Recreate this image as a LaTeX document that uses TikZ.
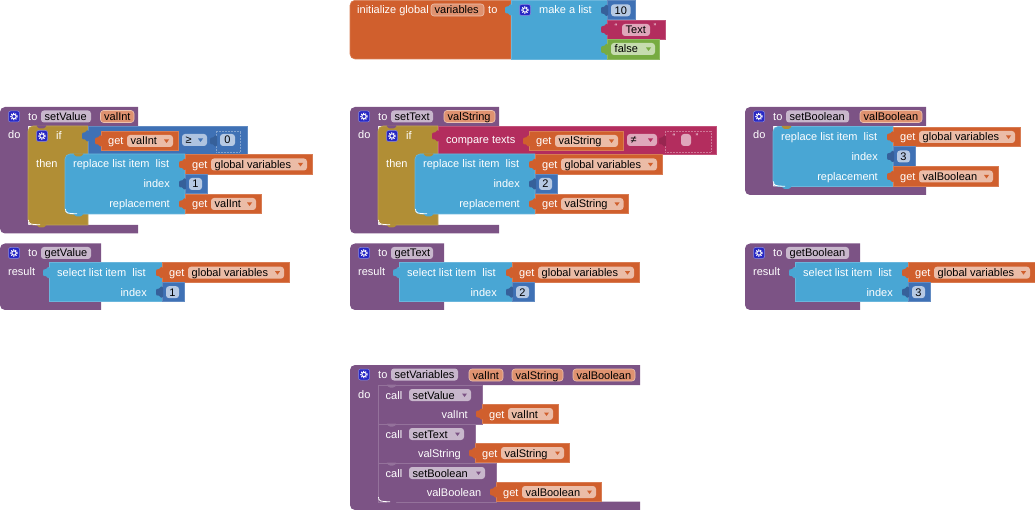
\documentclass[tikz,border=0pt]{standalone}
\usepackage{fontspec}
\setmainfont{Liberation Sans}
\definecolor{apporange}{HTML}{D05F2D}
\definecolor{applist}{HTML}{49A6D4}
\definecolor{appmath}{HTML}{3F71B5}
\definecolor{apptext}{HTML}{B32D5E}
\definecolor{applogic}{HTML}{77AB41}
\definecolor{appctrl}{HTML}{B18E35}
\definecolor{appproc}{HTML}{7C5385}
\definecolor{appgear}{HTML}{2828C4}
\tikzset{>=stealth,
  blockfill/.style={fill=#1,draw=#1!82!white,line width=.6pt},
  lbl/.style={text=white,font=\fontsize{11}{13}\selectfont,inner sep=0pt,anchor=base west},
  lblr/.style={lbl,anchor=base east},
  fieldtxt/.style={lbl,text=black},
  fieldmid/.style={lbl,text=black,anchor=base},
  quotemark/.style={lbl,anchor=center,font=\fontsize{8}{9}\selectfont}
}
% plug on the left edge of a block
\newcommand{\plugtab}[3]{\fill[#3,rounded corners=1pt] (#1+1,#2) -- (#1-2,#2) -- (#1-2,#2+2) -- (#1-5,#2+2) -- (#1-6,#2+3) -- (#1-6,#2+8) -- (#1-5,#2+9) -- (#1-2,#2+9) -- (#1-2,#2+11) -- (#1+1,#2+11) -- cycle;}
\newcommand{\dropbump}[3]{\fill[#3,rounded corners=1pt] (#1,#2-.5) -- (#1+3,#2+2.5) -- (#1+8,#2+2.5) -- (#1+11,#2-.5) -- cycle;}
\newcommand{\lowcurve}[2]{\draw[white,line width=.8pt] (#1+.5,#2-5) .. controls (#1+.5,#2-1) and (#1+2,#2-.3) .. (#1+12,#2-.3);}
\newcommand{\gearbtn}[2]{
  \draw[fill=appgear,draw=appgear!55!white,line width=.5pt,rounded corners=2pt] (#1-5.5,#2-5.5) rectangle (#1+5.5,#2+5.5);
  \draw[white,line width=1pt] (#1,#2) circle [radius=2.2];
  \draw[white,line width=1.1pt,dash pattern=on 1pt off 1.3pt] (#1,#2) circle [radius=3.2];
}
\newcommand{\fieldpill}[5]{
  \fill[#4,rounded corners=3pt] (#1,#3-6) rectangle (#2,#3+6);
  \node[fieldtxt] at (#1+3.5,#3+4) {#5};
}
\newcommand{\dropfield}[5]{
  \fieldpill{#1}{#2}{#3}{#4!42!white}{#5}
  \fill[#4] (#2-9,#3-1.5) -- (#2-4,#3-1.5) -- (#2-6.5,#3+2) -- cycle;
}
\newcommand{\parampill}[4]{
  \draw[fill=apporange!68!white,draw=apporange!38!white,line width=.6pt,rounded corners=3pt] (#1,#3-6) rectangle (#2,#3+6);
  \node[fieldtxt] at (#1+3.5,#3+4) {#4};
}
% x, y, right edge, name
\newcommand{\getvar}[4]{
  \draw[blockfill=apporange] (#1,#2) rectangle (#3,#2+19.5);
  \plugtab{#1}{#2+4.5}{apporange}
  \node[lbl] at (#1+7,#2+14) {get};
  \dropfield{#1+26}{#3-5}{#2+10}{apporange}{#4}
}
% x, y, right edge, value
\newcommand{\numval}[4]{
  \draw[blockfill=appmath] (#1,#2) rectangle (#3,#2+19.5);
  \plugtab{#1}{#2+4.5}{appmath!85!black}
  \fill[appmath!38!white,rounded corners=3pt] (#1+4,#2+4) rectangle (#3-5,#2+16);
  \node[fieldmid] at ({(#1+#3-1)/2},#2+14) {#4};
}
% x, y, index, right edge of last plug, last plug name
\newcommand{\replaceitem}[5]{
  \draw[blockfill=applist] (#1+120,#2) [rounded corners=5pt] -- (#1,#2) -- (#1,#2+60) [sharp corners] -- (#1+120,#2+60) -- cycle;
  \dropbump{#1+8}{#2}{appctrl}
  \dropbump{#1+8}{#2+60}{applist}
  \lowcurve{#1}{#2+60}
  \node[lbl] at (#1+8,#2+14) {replace list item\hspace{3pt} list};
  \node[lblr] at (#1+105,#2+34) {index};
  \node[lblr] at (#1+105,#2+54) {replacement};
  \getvar{#1+120}{#2+.5}{#1+247}{global variables}
  \numval{#1+120}{#2+20}{#1+142}{#3}
  \getvar{#1+120}{#2+40}{#4}{#5}
}
% x, y, index
\newcommand{\selectitem}[3]{
  \draw[blockfill=applist] (#1,#2) rectangle (#1+113,#2+39);
  \plugtab{#1}{#2+4.5}{applist}
  \node[lbl] at (#1+8,#2+14) {select list item\hspace{3pt} list};
  \node[lblr] at (#1+98,#2+34) {index};
  \getvar{#1+113}{#2}{#1+240}{global variables}
  \numval{#1+113}{#2+19.5}{#1+135}{#3}
}
\newcommand{\procC}[5]{\fill[appproc] (#2,#3) [rounded corners=5pt] -- (#1,#3) -- (#1,#5) [sharp corners] -- (#2,#5) -- (#2,#5-8.5) -- (#1+28,#5-8.5) -- (#1+28,#4) -- (#2,#4) -- cycle;}
\newcommand{\procR}[4]{\fill[appproc] (#2,#3) [rounded corners=5pt] -- (#1,#3) -- (#1,#4) [sharp corners] -- (#2,#4) -- cycle;}
% x, y, right edge of pill, name
\newcommand{\hathead}[4]{
  \gearbtn{#1+14}{#2+9.5}
  \node[lbl] at (#1+28,#2+13.5) {to};
  \fieldpill{#1+41}{#3}{#2+9.5}{appproc!42!white}{#4}
}
\newcommand{\ifshape}[1]{
  \draw[blockfill=appctrl] (#1+60,126) [rounded corners=5pt] -- (#1,126) -- (#1,225) [sharp corners] -- (#1+60,225) -- cycle;
  \dropbump{#1+8}{126}{appproc}
  \dropbump{#1+8}{225}{appctrl}
  \lowcurve{#1}{225}
  \gearbtn{#1+14}{136}
  \node[lbl] at (#1+28,140) {if};
  \node[lbl] at (#1+8,168) {then};
}
\newcommand{\callrow}[4]{
  \draw[blockfill=appproc] (378,#1) rectangle (#2,#1+39);
  \dropbump{386}{#1}{appproc!82!white}
  \node[lbl] at (385.5,#1+14) {call};
  \dropfield{409}{#3}{#1+10}{appproc}{#4}
}
\begin{document}
\begin{tikzpicture}[x=1pt,y=-1pt]
\useasboundingbox (0,0) rectangle (1035,510);
% global list
\draw[blockfill=apporange] (511,.3) [rounded corners=5pt] -- (350,.3) -- (350,59) [sharp corners] -- (511,59) -- cycle;
\node[lbl] at (357,14) {initialize global};
\parampill{431}{484}{10}{variables}
\node[lbl] at (488,14) {to};
\draw[blockfill=applist] (511,.3) rectangle (607,59);
\plugtab{511}{4.5}{applist}
\gearbtn{525}{10}
\node[lbl] at (539,14) {make a list};
\numval{607}{.3}{635.5}{10}
\draw[blockfill=apptext] (607,20) rectangle (665.5,39);
\plugtab{607}{24}{apptext}
\node[quotemark] at (616,27) {“};
\fieldpill{622}{650}{30}{apptext!42!white}{Text}
\node[quotemark] at (655,27) {”};
\draw[blockfill=applogic] (607,39.5) rectangle (659,59);
\plugtab{607}{44}{applogic}
\dropfield{611}{655}{49}{applogic}{false}
% setValue
\procC{0}{138}{107}{126}{233.5}
\hathead{0}{107}{91}{setValue}
\parampill{100.5}{134}{116.5}{valInt}
\node[lbl] at (8,139) {do};
\ifshape{28}
\draw[blockfill=appmath] (88,126.5) rectangle (247,154);
\plugtab{88}{130.5}{appmath}
\getvar{101}{131}{178}{valInt}
\dropfield{182}{207}{140}{appmath}{≥}
\draw[white!35!appmath,densely dotted,line width=.5pt] (216,131) rectangle (240,152);
\plugtab{216}{135.5}{appmath!85!black}
\fill[appmath!38!white,rounded corners=3pt] (220,134) rectangle (235,146);
\node[fieldmid] at (227.5,144) {0};
\replaceitem{65}{154}{1}{261}{valInt}
% setText
\procC{350}{499}{107}{126}{233.5}
\hathead{350}{107}{433}{setText}
\parampill{444}{495}{116.5}{valString}
\node[lbl] at (358,139) {do};
\ifshape{378}
\draw[blockfill=apptext] (438,126.5) rectangle (716,154);
\plugtab{438}{130.5}{apptext}
\node[lbl] at (446,144) {compare texts};
\getvar{529}{131}{623}{valString}
\dropfield{627}{657}{140}{apptext}{≠}
\draw[white!35!apptext,densely dotted,line width=.5pt] (665,131) rectangle (711,152);
\plugtab{665}{135.5}{apptext!85!black}
\fill[apptext!42!white,rounded corners=3pt] (681,134) rectangle (691,146);
\node[quotemark] at (674,137) {“};
\node[quotemark] at (697,137) {”};
\replaceitem{415}{154}{2}{628.5}{valString}
% setBoolean
\procC{745}{926}{107}{126}{195}
\hathead{745}{107}{849}{setBoolean}
\parampill{860}{922}{116.5}{valBoolean}
\node[lbl] at (753,139) {do};
\replaceitem{773}{126.5}{3}{998}{valBoolean}
% getters
\procR{0}{101}{243.5}{310}
\hathead{0}{243.5}{91}{getValue}
\node[lbl] at (8,276) {result};
\selectitem{49}{262.7}{1}
\procR{350}{444}{243.5}{310}
\hathead{350}{243.5}{433}{getText}
\node[lbl] at (358,276) {result};
\selectitem{399}{262.7}{2}
\procR{745}{860}{243.5}{310}
\hathead{745}{243.5}{849}{getBoolean}
\node[lbl] at (753,276) {result};
\selectitem{795}{262.7}{3}
% setVariables
\procC{350}{640}{365}{385}{510}
\hathead{350}{365}{458}{setVariables}
\parampill{469}{503}{375}{valInt}
\parampill{512}{563}{375}{valString}
\parampill{573}{635}{375}{valBoolean}
\node[lbl] at (358,398) {do};
\callrow{385}{482}{471}{setValue}
\node[lblr] at (468,418) {valInt};
\getvar{482}{404}{558}{valInt}
\callrow{424}{475}{464}{setText}
\node[lblr] at (461,457) {valString};
\getvar{475}{443}{569}{valString}
\callrow{463}{496}{485}{setBoolean}
\node[lblr] at (481.5,496) {valBoolean};
\getvar{496}{482}{601}{valBoolean}
\dropbump{386}{502}{appproc}
\lowcurve{378}{502}
\end{tikzpicture}
\end{document}
